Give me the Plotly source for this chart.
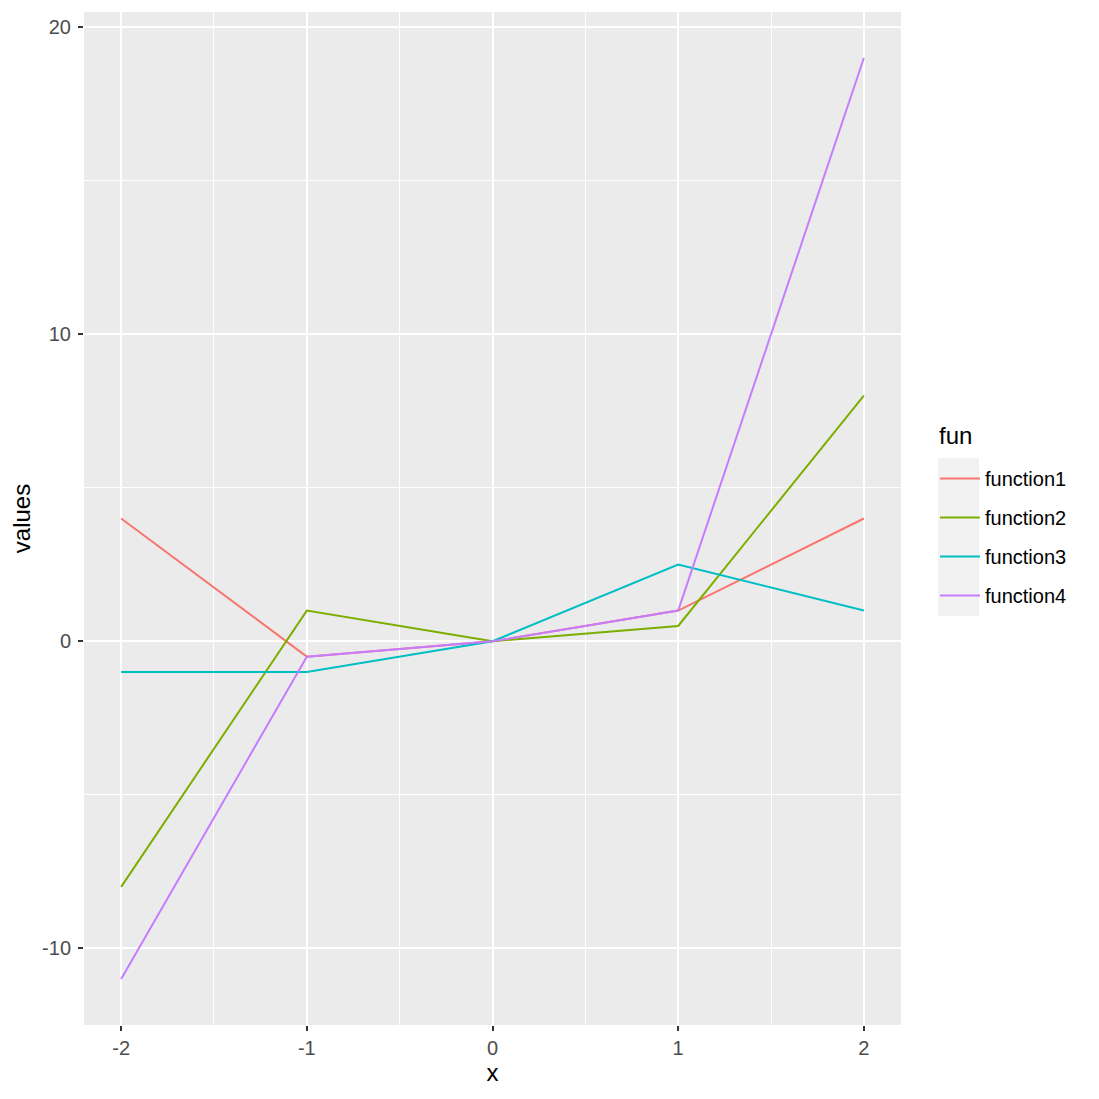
import plotly.graph_objects as go

# data
x = [-2, -1, 0, 1, 2]
function1 = [4, -0.5, 0, 1, 4]
function2 = [-8, 1, 0, 0.5, 8]
function3 = [-1, -1, 0, 2.5, 1]
function4 = [-11, -0.5, 0, 1, 19]

names = ["function1", "function2", "function3", "function4"]
series = [function1, function2, function3, function4]
colors = ["#F8766D", "#7CAE00", "#00BFC4", "#C77CFF"]
x_ticks = ["-2", "-1", "0", "1", "2"]
y_tickvals = [-10, 0, 10, 20]
y_ticks = ["-10", "0", "10", "20"]

fig = go.Figure()
for name, vals, col in zip(names, series, colors):
    fig.add_trace(go.Scatter(x=x, y=vals, mode="lines", name=name,
                             legendgroup=name,
                             line=dict(color=col, width=2)))

axis_style = dict(
    showgrid=True, gridcolor="white", gridwidth=2,
    zeroline=False, showline=False,
    ticks="outside", ticklen=5, tickwidth=2, tickcolor="#333333",
    tickfont=dict(size=20, color="#4D4D4D"),
)

fig.update_xaxes(range=[-2.2, 2.2], tickvals=x, ticktext=x_ticks,
                 minor=dict(dtick=0.5, tick0=-1.5, showgrid=True, gridcolor="white", gridwidth=1, ticks=""),
                 title=dict(text="x", font=dict(size=24, color="black"), standoff=6),
                 **axis_style)
fig.update_yaxes(range=[-12.5, 20.5], tickvals=y_tickvals, ticktext=y_ticks,
                 minor=dict(dtick=5, tick0=-5, showgrid=True, gridcolor="white", gridwidth=1, ticks=""),
                 title=dict(text="values", font=dict(size=24, color="black"), standoff=12),
                 ticklabelstandoff=3,
                 **axis_style)

# page has an 8px body margin, so the figure is a bit smaller than the window
W = H = 1091
ml, mr, mt, mb = 76, 198, 4, 74
pw = W - ml - mr
ph = H - mt - mb


def px_x(p):
    return (p - 8 - ml) / pw


def px_y(p):
    return (H - mb + 8 - p) / ph


# grey background behind legend keys, like ggplot
fig.add_shape(type="rect", xref="paper", yref="paper",
              x0=px_x(938), x1=px_x(979), y0=px_y(616), y1=px_y(458),
              fillcolor="#F2F2F2", line=dict(width=0), layer="below")

# legend title
fig.add_annotation(text="fun", xref="paper", yref="paper", x=px_x(937), y=px_y(436),
                   xanchor="left", yanchor="middle", showarrow=False,
                   font=dict(size=24, color="black"))

fig.update_layout(
    width=W, height=H,
    margin=dict(l=ml, r=mr, t=mt, b=mb, autoexpand=False),
    plot_bgcolor="#EBEBEB", paper_bgcolor="white",
    font=dict(family="Liberation Sans, Arial", color="black"),
    legend=dict(font=dict(size=20), x=px_x(935), xanchor="left",
                y=px_y(459), yanchor="top", bgcolor="rgba(0,0,0,0)",
                tracegroupgap=10, itemwidth=40),
)

fig.write_html("out.html")
